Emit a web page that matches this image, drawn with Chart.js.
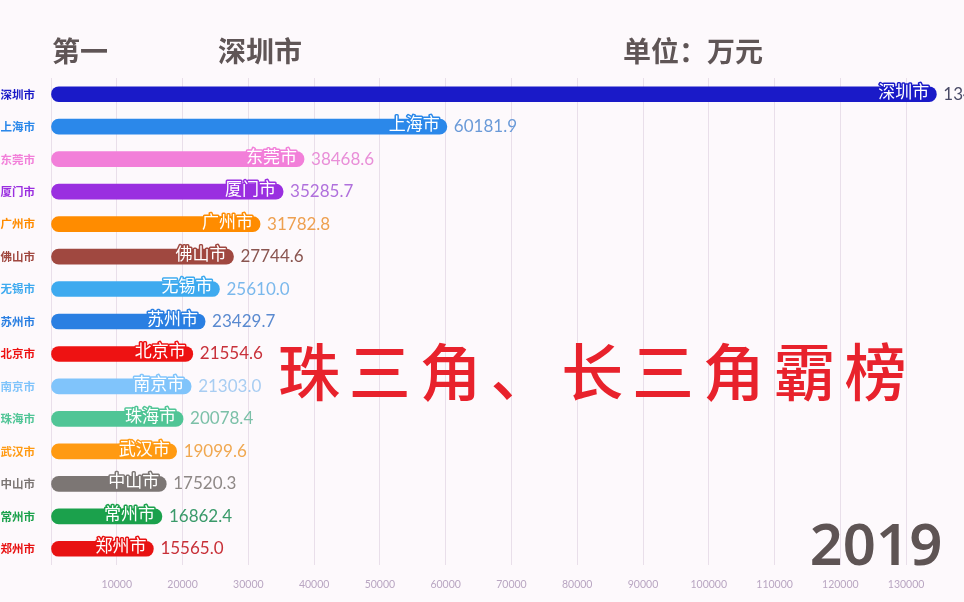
<!DOCTYPE html>
<html>
<head>
<meta charset="utf-8">
<script src="https://cdn.jsdelivr.net/npm/chart.js@4.4.1/dist/chart.umd.min.js"></script>
<style>
html,body{margin:0;padding:0;background:#fdf9fc;overflow:hidden;}
canvas{display:block;}
</style>
</head>
<body>
<canvas id="c" width="964" height="602"></canvas>
<script>
const categories = ['深圳市','上海市','东莞市','厦门市','广州市','佛山市','无锡市','苏州市','北京市','南京市','珠海市','武汉市','中山市','常州市','郑州市'];
const values = [134600.0, 60181.9, 38468.6, 35285.7, 31782.8, 27744.6, 25610.0, 23429.7, 21554.6, 21303.0, 20078.4, 19099.6, 17520.3, 16862.4, 15565.0];
const barColors = ['#1a1ac8','#2b88ea','#f27fd9','#9a2fe0','#ff8c00','#a04840','#3eaaef','#2a7fe2','#ee1212','#80c4fb','#50c596','#ff9a12','#7c7674','#1ba14c','#e81212'];
const valueColors = ['#4a4a66','#6a9ad8','#e98fd8','#b070dc','#eea050','#8a5550','#7ab8ec','#5a8ad0','#c8303a','#a8cdf2','#7cc0a8','#f0a850','#8e8886','#3a9a6a','#c83038'];
const xTicks = [0, 10000, 20000, 30000, 40000, 50000, 60000, 70000, 80000, 90000, 100000, 110000, 120000, 130000];
const xMax = 138800;
const titleRank = '第一';
const titleCity = '深圳市';
const unitText = '单位：万元';
const yearText = '2019';
const slogan = '珠三角、长三角霸榜';

const overlay = {
  id: 'overlay',
  beforeDraw(chart) {
    const ctx = chart.ctx;
    ctx.save();
    ctx.fillStyle = '#5e5454';
    ctx.font = '600 58px "Noto Sans", sans-serif';
    ctx.textAlign = 'center';
    ctx.textBaseline = 'alphabetic';
    ctx.fillText(yearText, 876, 565);
    ctx.fillStyle = '#5f5556';
    ctx.font = 'bold 28px "Noto Sans CJK SC", sans-serif';
    ctx.textAlign = 'left';
    ctx.textBaseline = 'middle';
    ctx.fillText(titleRank, 52, 51);
    ctx.fillText(titleCity, 218, 51);
    ctx.fillText(unitText, 623, 51);
    ctx.restore();
  },
  afterDatasetsDraw(chart) {
    const ctx = chart.ctx;
    const meta = chart.getDatasetMeta(0);
    ctx.save();
    meta.data.forEach((bar, i) => {
      const x = bar.x, y = bar.y;
      ctx.font = '17px "Noto Sans CJK SC", sans-serif';
      ctx.textAlign = 'right';
      ctx.textBaseline = 'middle';
      ctx.lineJoin = 'round';
      ctx.lineWidth = 3;
      ctx.strokeStyle = barColors[i];
      ctx.strokeText(categories[i], x - 7, y - 3);
      ctx.fillStyle = '#ffffff';
      ctx.fillText(categories[i], x - 7, y - 3);
      ctx.font = '17px Lato, "Noto Sans", sans-serif';
      ctx.textAlign = 'left';
      ctx.fillStyle = valueColors[i];
      ctx.fillText(values[i].toFixed(1), x + 7, y);
    });
    ctx.restore();
  },
  afterDraw(chart) {
    const ctx = chart.ctx;
    ctx.save();
    ctx.fillStyle = '#e8222c';
    ctx.font = '500 62px "Noto Sans CJK SC", sans-serif';
    ctx.textAlign = 'center';
    ctx.textBaseline = 'middle';
    const chars = Array.from(slogan);
    chars.forEach((ch, i) => {
      ctx.fillText(ch, 309 + i * 70.8, 372);
    });
    ctx.restore();
  }
};

new Chart(document.getElementById('c'), {
  type: 'bar',
  data: {
    labels: categories,
    datasets: [{
      data: values,
      backgroundColor: barColors,
      barThickness: 15,
      borderRadius: 8,
      borderSkipped: false
    }]
  },
  options: {
    indexAxis: 'y',
    responsive: false,
    animation: false,
    layout: { padding: { top: 78, left: 0, right: 0, bottom: 0 } },
    plugins: { legend: { display: false }, tooltip: { enabled: false } },
    scales: {
      x: {
        type: 'linear',
        min: 0,
        max: xMax,
        border: { display: false },
        grid: { drawTicks: false, color: '#e9dfea', lineWidth: 1 },
        afterBuildTicks: s => { s.ticks = xTicks.map(v => ({ value: v })); },
        ticks: {
          autoSkip: false,
          maxRotation: 0,
          minRotation: 0,
          padding: 13,
          color: '#b9a6c2',
          font: { family: 'Lato, "Noto Sans", sans-serif', size: 10.5 },
          callback: v => (v === 0 ? '' : String(v))
        },
        afterFit: s => { s.height = 37; }
      },
      y: {
        border: { display: false },
        grid: { display: false },
        ticks: {
          padding: 8,
          color: ctx => barColors[ctx.index],
          font: { family: '"Noto Sans CJK SC", sans-serif', size: 11.5, weight: 'bold' }
        },
        afterFit: s => { s.width = 51; }
      }
    }
  },
  plugins: [overlay]
});
</script>
</body>
</html>
